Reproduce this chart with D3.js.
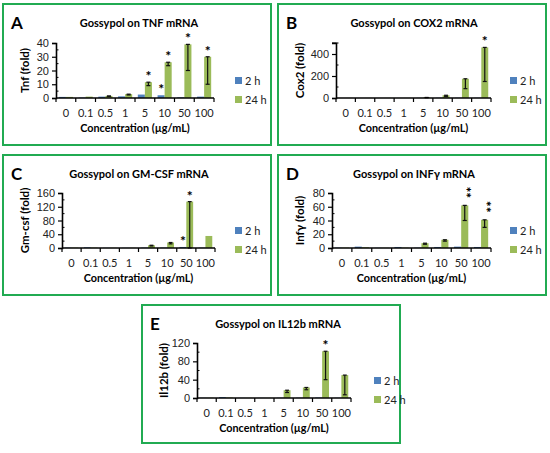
<!DOCTYPE html>
<html>
<head>
<meta charset="utf-8">
<script src="https://cdn.jsdelivr.net/npm/d3@7"></script>
<style>
  body { margin: 0; background: #fff; }
  svg { display: block; font-family: Lato, "Open Sans", sans-serif; }
</style>
</head>
<body>
<div id="chart"></div>
<script>
// kategóriák és sorozatok
const categories = ["0", "0.1", "0.5", "1", "5", "10", "50", "100"];
const seriesNames = ["2 h", "24 h"];

const tnf2h   = [0.8, 0.3, 1.0, 1.2, 2.5, 2.0, 0.5, 1.0];
const tnf24h  = [0.8, 1.0, 1.5, 2.8, 11.5, 26, 39, 30];
const tnfErr  = [0, 0, 0.3, 0.6, 2.5, 2.5, 19, 20];

const cox2h   = [0.5, 0.5, 0.5, 0.5, 1, 2, 2, 2];
const cox24h  = [1, 1, 1, 1, 5, 25, 175, 460];
const coxErr  = [0, 0, 0, 0, 2, 10, 90, 310];

const gm2h    = [1, 2, 0.5, 0.5, 1, 1, 3, 1];
const gm24h   = [1, 1, 0.5, 0.5, 8, 16, 135, 35];
const gmErr   = [0, 0, 0, 0, 2, 4, 135, 0];

const inf2h   = [0.5, 2, 0.3, 1.5, 0.5, 1.5, 2, 1.5];
const inf24h  = [0.5, 1, 0.3, 0.5, 7, 12, 62, 41];
const infErr  = [0, 0, 0, 0, 1.5, 2, 22, 11];

const il2h    = [0.5, 2, 0.3, 0.3, 0.5, 0.5, 1, 0.5];
const il24h   = [0.5, 1, 0.3, 0.3, 17, 23, 102, 50];
const ilErr   = [0, 0, 0, 0, 5, 5, 62, 43];

// csillagok: [kategória, sorozat, jel]
const tnfStars = [["5", "24 h", "*"], ["10", "2 h", "*"], ["10", "24 h", "*"], ["50", "24 h", "*"], ["100", "24 h", "*"]];
const coxStars = [["100", "24 h", "*"]];
const gmStars  = [["50", "2 h", "*"], ["50", "24 h", "*"]];
const infStars = [["50", "24 h", "**"], ["100", "24 h", "**"]];
const ilStars  = [["50", "24 h", "*"]];

const colors = { "2 h": "#4f81bd", "24 h": "#9bbb59" };

const panels = [
  { letter: "A", title: "Gossypol on TNF mRNA", ylabel: "Tnf (fold)", max: 40, step: 10,
    s2: tnf2h, s24: tnf24h, err: tnfErr, stars: tnfStars,
    box: [3, 4, 268, 141], plot: [56, 214, 43, 98] },
  { letter: "B", title: "Gossypol on COX2 mRNA", ylabel: "Cox2 (fold)", max: 500, step: 200,
    s2: cox2h, s24: cox24h, err: coxErr, stars: coxStars,
    box: [278, 4, 268, 141], plot: [336, 491, 43, 98] },
  { letter: "C", title: "Gossypol on GM-CSF mRNA", ylabel: "Gm-csf (fold)", max: 160, step: 40,
    s2: gm2h, s24: gm24h, err: gmErr, stars: gmStars,
    box: [3, 155, 268, 140], plot: [62, 215, 193, 248] },
  { letter: "D", title: "Gossypol on INF\u03b3 mRNA", ylabel: "Inf\u03b3 (fold)", max: 80, step: 20,
    s2: inf2h, s24: inf24h, err: infErr, stars: infStars,
    box: [278, 155, 268, 140], plot: [332, 491, 193, 248] },
  { letter: "E", title: "Gossypol on IL12b mRNA", ylabel: "Il12b (fold)", max: 120, step: 40,
    s2: il2h, s24: il24h, err: ilErr, stars: ilStars,
    box: [142, 305, 258, 138], plot: [197, 351, 343, 398] }
];

const svg = d3.select("#chart")
  .append("svg")
  .attr("width", 550)
  .attr("height", 453);

panels.forEach(p => drawPanel(p));

function drawPanel(p) {
  const [bx, by, bw, bh] = p.box;
  const [px0, px1, pyTop, py0] = p.plot;
  const g = svg.append("g");

  g.append("rect")
    .attr("x", bx).attr("y", by)
    .attr("width", bw).attr("height", bh)
    .attr("fill", "#fff")
    .attr("stroke", "#21ab52")
    .attr("stroke-width", 2);

  g.append("text")
    .attr("x", bx + 8).attr("y", by + 25)
    .attr("font-size", 17).attr("font-weight", "bold")
    .text(p.letter);

  g.append("text")
    .attr("x", bx + 136).attr("y", by + 23)
    .attr("text-anchor", "middle")
    .attr("font-size", 11).attr("font-weight", "bold")
    .text(p.title);

  const x0 = d3.scaleBand().domain(categories).range([px0, px1]);
  const x1 = d3.scaleBand().domain(seriesNames).range([0, x0.bandwidth()]).paddingOuter(0.4);
  const y = d3.scaleLinear().domain([0, p.max]).range([py0, pyTop]);

  const rows = categories.map((c, i) => ({
    cat: c,
    vals: [
      { s: "2 h", v: p.s2[i], e: 0 },
      { s: "24 h", v: p.s24[i], e: p.err[i] }
    ]
  }));

  const cg = g.selectAll("g.cat")
    .data(rows)
    .enter()
    .append("g")
    .attr("class", "cat")
    .attr("transform", d => `translate(${x0(d.cat)},0)`);

  cg.selectAll("rect")
    .data(d => d.vals)
    .enter()
    .append("rect")
    .attr("x", d => x1(d.s))
    .attr("width", x1.bandwidth())
    .attr("y", d => y(d.v))
    .attr("height", d => y(0) - y(d.v))
    .attr("fill", d => colors[d.s]);

  // hibasávok (csak lefelé látszanak)
  const eb = cg.selectAll("g.err")
    .data(d => d.vals.filter(v => v.e > 0))
    .enter()
    .append("g")
    .attr("class", "err")
    .attr("stroke", "#111")
    .attr("stroke-width", 1.2);

  eb.append("line")
    .attr("x1", d => x1(d.s) + x1.bandwidth() / 2)
    .attr("x2", d => x1(d.s) + x1.bandwidth() / 2)
    .attr("y1", d => y(Math.max(0, d.v - d.e)))
    .attr("y2", d => y(d.v));

  eb.append("line")
    .attr("x1", d => x1(d.s) + 1.5)
    .attr("x2", d => x1(d.s) + x1.bandwidth() - 1.5)
    .attr("y1", d => y(Math.max(0, d.v - d.e)))
    .attr("y2", d => y(Math.max(0, d.v - d.e)));

  eb.append("line")
    .attr("x1", d => x1(d.s) + 1.5)
    .attr("x2", d => x1(d.s) + x1.bandwidth() - 1.5)
    .attr("y1", d => y(d.v))
    .attr("y2", d => y(d.v));

  // y tengely
  const yTicks = d3.range(0, p.max + 0.001, p.step);
  const yAxis = d3.axisLeft(y).tickValues(yTicks).tickSize(4).tickPadding(3);
  const ya = g.append("g")
    .attr("transform", `translate(${px0},0)`)
    .call(yAxis);
  ya.select(".domain").attr("stroke", "#000").attr("stroke-width", 1.6);
  ya.selectAll(".tick line").attr("stroke", "#000").attr("stroke-width", 1.2);
  ya.selectAll(".tick text").attr("font-size", 11).attr("fill", "#222");

  const minor = d3.range(p.step / 2, p.max + 0.001, p.step / 2).filter(v => yTicks.indexOf(v) < 0);
  ya.selectAll("line.minor")
    .data(minor)
    .enter()
    .append("line")
    .attr("class", "minor")
    .attr("x1", 0).attr("x2", 2.5)
    .attr("y1", d => y(d)).attr("y2", d => y(d))
    .attr("stroke", "#000").attr("stroke-width", 1);
  if (p.max % p.step) {
    ya.append("line")
      .attr("x1", -4).attr("x2", 0)
      .attr("y1", y(p.max)).attr("y2", y(p.max))
      .attr("stroke", "#000").attr("stroke-width", 1.2);
  }

  // x tengely
  const xa = g.append("g")
    .attr("transform", `translate(0,${py0})`);
  xa.append("line")
    .attr("x1", px0).attr("x2", px1)
    .attr("stroke", "#000").attr("stroke-width", 1.6);
  xa.selectAll("line.tk")
    .data(categories.concat(["end"]))
    .enter()
    .append("line")
    .attr("class", "tk")
    .attr("x1", d => d === "end" ? px1 : x0(d))
    .attr("x2", d => d === "end" ? px1 : x0(d))
    .attr("y1", 0).attr("y2", 4)
    .attr("stroke", "#000").attr("stroke-width", 1.2);
  xa.selectAll("text")
    .data(categories)
    .enter()
    .append("text")
    .attr("x", d => x0(d) + x0.bandwidth() / 2)
    .attr("y", 18.5)
    .attr("text-anchor", "middle")
    .attr("font-size", 11).attr("fill", "#222")
    .text(d => d);

  g.append("text")
    .attr("x", (px0 + px1) / 2)
    .attr("y", py0 + 34)
    .attr("text-anchor", "middle")
    .attr("font-size", 10.8).attr("font-weight", "bold")
    .text("Concentration (\u00b5g/mL)");

  g.append("text")
    .attr("transform", `translate(${bx + 26},${(pyTop + py0) / 2}) rotate(-90)`)
    .attr("text-anchor", "middle")
    .attr("font-size", 11.5).attr("font-weight", "bold")
    .text(p.ylabel);

  // csillagok
  const starPos = p.stars.map(([c, s, t]) => {
    const i = categories.indexOf(c);
    return { c, s, t, v: s === "2 h" ? p.s2[i] : p.s24[i] };
  });
  g.selectAll("text.star")
    .data(starPos)
    .enter()
    .append("text")
    .attr("class", "star")
    .attr("transform", d => {
      const sx = x0(d.c) + x1(d.s) + x1.bandwidth() / 2;
      return d.t.length > 1
        ? `translate(${sx - 3.5},${y(d.v) - 13}) rotate(90)`
        : `translate(${sx},${y(d.v) - 1})`;
    })
    .attr("text-anchor", "middle")
    .attr("font-size", 14).attr("font-weight", "bold")
    .text(d => d.t);

  // jelmagyarázat
  const lg = g.append("g")
    .attr("transform", `translate(${bx + 232},${(pyTop + py0) / 2 + 10})`);
  seriesNames.forEach((s, i) => {
    lg.append("rect")
      .attr("x", 0).attr("y", i * 19 - 3.5)
      .attr("width", 7).attr("height", 7)
      .attr("fill", colors[s]);
    lg.append("text")
      .attr("x", 10).attr("y", i * 19 + 4)
      .attr("font-size", 11).attr("fill", "#222")
      .text(s);
  });
}
</script>
</body>
</html>
